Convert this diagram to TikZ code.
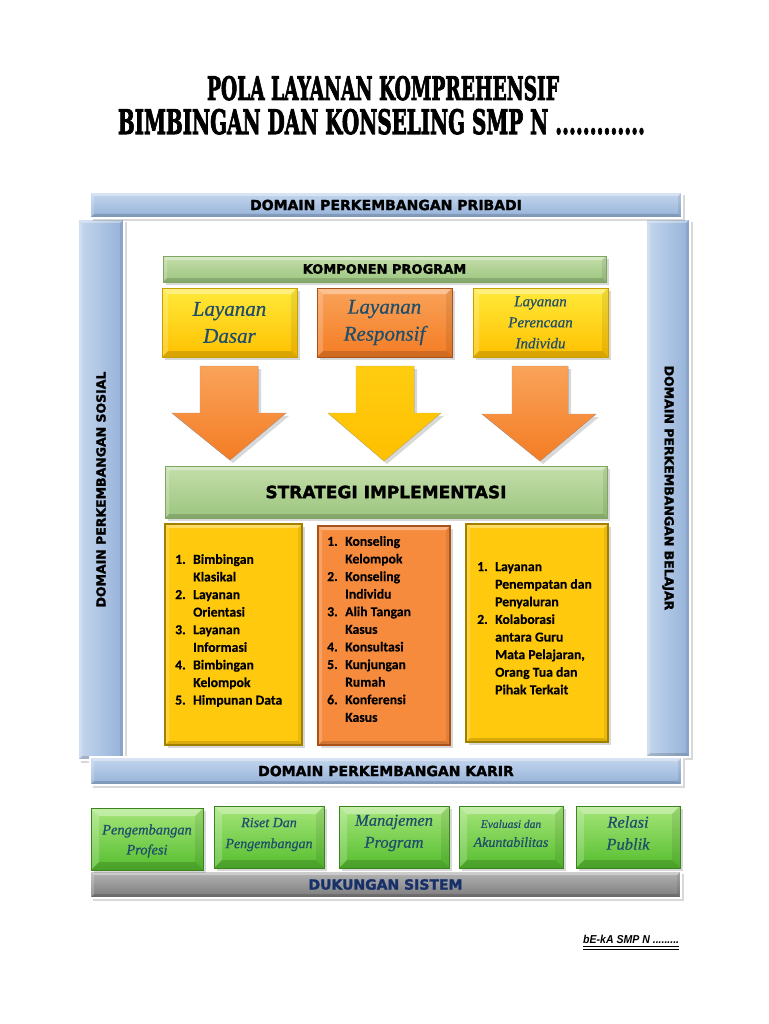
\documentclass[tikz,border=0pt]{standalone}
\usepackage{fontspec}
\setmainfont{Liberation Serif}
\newfontfamily\heavyfont{DejaVu Sans Bold}[FakeBold=1.6]
\newfontfamily\titlefont{DejaVu Serif Bold}[FakeBold=3]
\newfontfamily\listfont{Carlito}[FakeBold=0.4]
\newfontfamily\corsiva{Liberation Serif}[FakeBold=0.6]
\newfontfamily\sigfont{Liberation Sans}
\usetikzlibrary{shadows}
\definecolor{BlueTop}{HTML}{C6D7EE}
\definecolor{BlueBot}{HTML}{93B1D8}
\definecolor{GreenTop}{HTML}{C4DEAA}
\definecolor{GreenBot}{HTML}{9CC57F}
\definecolor{GreenEdge}{HTML}{7FA65F}
\definecolor{YelTop}{HTML}{FFEA3A}
\definecolor{YelBot}{HTML}{FFC000}
\definecolor{YelEdge}{HTML}{C9A000}
\definecolor{OrTop}{HTML}{F9A35A}
\definecolor{OrBot}{HTML}{F47C24}
\definecolor{OrEdge}{HTML}{A8521A}
\definecolor{ListYel}{HTML}{FFC90E}
\definecolor{ListOr}{HTML}{F68B3E}
\definecolor{LimeTop}{HTML}{A6E67A}
\definecolor{LimeBot}{HTML}{55BD2E}
\definecolor{GreyTop}{HTML}{B5B5B5}
\definecolor{GreyBot}{HTML}{7A7A7A}
\definecolor{TealText}{HTML}{1F4E6B}
\definecolor{NavyText}{HTML}{17306A}
\newcommand{\lsitem}[2]{\makebox[18pt][l]{#1}#2}
\begin{document}
\begin{tikzpicture}[x=1pt,y=-1pt,
  bevel/.style={path picture={
    \fill[white,opacity=0.35] (path picture bounding box.north west) -- (path picture bounding box.north east)
      -- ([xshift=-#1,yshift=-#1]path picture bounding box.north east) -- ([xshift=#1,yshift=-#1]path picture bounding box.north west) -- cycle;
    \fill[white,opacity=0.2] (path picture bounding box.north west) -- (path picture bounding box.south west)
      -- ([xshift=#1,yshift=#1]path picture bounding box.south west) -- ([xshift=#1,yshift=-#1]path picture bounding box.north west) -- cycle;
    \fill[black,opacity=0.15] (path picture bounding box.south west) -- (path picture bounding box.south east)
      -- ([xshift=-#1,yshift=#1]path picture bounding box.south east) -- ([xshift=#1,yshift=#1]path picture bounding box.south west) -- cycle;
    \fill[black,opacity=0.08] (path picture bounding box.north east) -- (path picture bounding box.south east)
      -- ([xshift=-#1,yshift=#1]path picture bounding box.south east) -- ([xshift=-#1,yshift=-#1]path picture bounding box.north east) -- cycle;
  }},
  bevel/.default=5pt,
  shad/.style={drop shadow={opacity=0.3,shadow xshift=3pt,shadow yshift=-3pt}},
  panel/.style={rectangle,inner sep=0pt,shad},
  bluebar/.style={panel,bevel=4pt,top color=BlueTop,bottom color=BlueBot,draw=white,line width=1.5pt},
  sidebar/.style={panel,bevel=4pt,left color=BlueTop,right color=BlueBot,draw=white,line width=1.5pt},
  greenbar/.style={panel,bevel=4pt,top color=GreenTop,bottom color=GreenBot,draw=GreenEdge,line width=0.6pt},
  yelbox/.style={panel,bevel=6pt,top color=YelTop,bottom color=YelBot,draw=YelEdge,line width=0.6pt},
  orbox/.style={panel,bevel=6pt,top color=OrTop,bottom color=OrBot,draw=OrEdge,line width=0.6pt},
  listyel/.style={panel,bevel=4pt,fill=ListYel,draw=YelEdge!80!black,line width=1.2pt},
  listor/.style={panel,bevel=4pt,fill=ListOr,draw=OrEdge,line width=1.2pt},
  limebox/.style={panel,bevel=8pt,top color=LimeTop,bottom color=LimeBot,draw=LimeBot!70!black,line width=0.4pt},
  greybar/.style={panel,bevel=4pt,top color=GreyTop,bottom color=GreyBot,draw=white,line width=1.5pt},
  domaintxt/.style={font=\heavyfont\fontsize{14}{16}\selectfont,text=black},
  sidetxt/.style={font=\heavyfont\fontsize{12.5}{14}\selectfont,text=black},
  laytxt/.style={font=\corsiva\itshape\fontsize{21}{27}\selectfont,text=TealText,align=center},
  greentxt/.style={font=\corsiva\itshape,text=TealText,align=center},
  listtxt/.style={font=\listfont\bfseries\fontsize{13.7}{17.6}\selectfont,align=left,anchor=north west,inner sep=0pt,text=black},
  arrowor/.style={shad,top color=OrTop,bottom color=OrBot,draw=OrEdge!60,line width=0.4pt},
  arrowyel/.style={shad,top color=YelBot!70!YelTop,bottom color=YelBot,draw=YelEdge!70,line width=0.4pt}
]
\useasboundingbox[fill=white] (0,0) rectangle (768,1024);

% title
\node[anchor=base,inner sep=0pt] (title1) at (383,100) {\resizebox{352pt}{24pt}{\titlefont POLA LAYANAN KOMPREHENSIF}};
\node[anchor=base,inner sep=0pt] (title2) at (381.5,134) {\resizebox{527pt}{25pt}{\titlefont BIMBINGAN DAN KONSELING SMP N .............}};

% inner panel
\node[panel,fill=white,draw=black!30,line width=0.8pt,minimum width=522pt,minimum height=542pt] (inner) at (385,487) {};

% domain bars
\node[sidebar,minimum width=46pt,minimum height=541pt] (sosialbar) at (101,489.5) {};
\node[sidetxt,rotate=90] (sosial) at (sosialbar.center) {DOMAIN PERKEMBANGAN SOSIAL};
\node[sidebar,minimum width=44pt,minimum height=538pt] (belajarbar) at (668,488) {};
\node[sidetxt,rotate=-90] (belajar) at (belajarbar.center) {DOMAIN PERKEMBANGAN BELAJAR};
\node[bluebar,minimum width=592pt,minimum height=26pt,domaintxt] (pribadi) at (386,205) {DOMAIN PERKEMBANGAN PRIBADI};
\node[bluebar,minimum width=592pt,minimum height=28pt,domaintxt] (karir) at (386,771) {DOMAIN PERKEMBANGAN KARIR};

% komponen program
\node[greenbar,minimum width=443pt,minimum height=26pt,font=\heavyfont\fontsize{13}{15}\selectfont] (komponen) at (384.5,269) {KOMPONEN PROGRAM};
\node[yelbox,minimum width=135pt,minimum height=69pt,laytxt] (dasar) at (229.5,322.5) {Layanan\\Dasar};
\node[orbox,minimum width=135pt,minimum height=69pt,laytxt] (responsif) at (384.5,322.5) {Layanan\\Responsif};
\node[yelbox,minimum width=135pt,minimum height=69pt,laytxt,font=\corsiva\itshape\fontsize{15}{21}\selectfont] (perencanaan) at (540.5,322.5) {Layanan\\Perencaan\\Individu};

% block arrows
\fill[arrowor] (200,366) -- (258,366) -- (258,413) -- (286,413) -- (230,460) -- (172,413) -- (200,413) -- cycle;
\fill[arrowyel] (356,366) -- (414,366) -- (414,413) -- (441,413) -- (384,461) -- (328,413) -- (356,413) -- cycle;
\fill[arrowor] (512,366) -- (568,366) -- (568,414) -- (596,414) -- (540,461) -- (482,414) -- (512,414) -- cycle;

% strategi
\node[greenbar,minimum width=442pt,minimum height=52pt,font=\heavyfont\fontsize{17}{19}\selectfont] (strategi) at (386,492) {STRATEGI IMPLEMENTASI};

\node[listyel,minimum width=137pt,minimum height=221pt] (s1) at (233.5,634.5) {};
\node[listor,minimum width=132pt,minimum height=219pt] (s2) at (384,635.5) {};
\node[listyel,minimum width=142pt,minimum height=218pt] (s3) at (537,633) {};

\node[listtxt] (list1) at (175,554) {\lsitem{1.}{Bimbingan}\\\lsitem{}{Klasikal}\\\lsitem{2.}{Layanan}\\\lsitem{}{Orientasi}\\\lsitem{3.}{Layanan}\\\lsitem{}{Informasi}\\\lsitem{4.}{Bimbingan}\\\lsitem{}{Kelompok}\\\lsitem{5.}{Himpunan Data}};
\node[listtxt] (list2) at (327,536) {\lsitem{1.}{Konseling}\\\lsitem{}{Kelompok}\\\lsitem{2.}{Konseling}\\\lsitem{}{Individu}\\\lsitem{3.}{Alih Tangan}\\\lsitem{}{Kasus}\\\lsitem{4.}{Konsultasi}\\\lsitem{5.}{Kunjungan}\\\lsitem{}{Rumah}\\\lsitem{6.}{Konferensi}\\\lsitem{}{Kasus}};
\node[listtxt] (list3) at (477,562) {\lsitem{1.}{Layanan}\\\lsitem{}{Penempatan dan}\\\lsitem{}{Penyaluran}\\\lsitem{2.}{Kolaborasi}\\\lsitem{}{antara Guru}\\\lsitem{}{Mata Pelajaran,}\\\lsitem{}{Orang Tua dan}\\\lsitem{}{Pihak Terkait}};

% dukungan sistem
\node[greybar,minimum width=591pt,minimum height=27pt,domaintxt,text=NavyText] (dukungan) at (385.5,884.5) {DUKUNGAN SISTEM};
\node[limebox,minimum width=112pt,minimum height=62pt] (g1) at (147,839) {};
\node[limebox,minimum width=110pt,minimum height=62pt] (g2) at (269,837) {};
\node[limebox,minimum width=110pt,minimum height=62pt] (g3) at (394,837) {};
\node[limebox,minimum width=104pt,minimum height=62pt] (g4) at (511,837) {};
\node[limebox,minimum width=104pt,minimum height=62pt] (g5) at (628,837) {};
\node[greentxt,font=\corsiva\itshape\fontsize{14.4}{20}\selectfont] (t1) at (147,841) {Pengembangan\\Profesi};
\node[greentxt,font=\corsiva\itshape\fontsize{14}{21}\selectfont] (t2) at (269,834.5) {Riset Dan\\Pengembangan};
\node[greentxt,font=\corsiva\itshape\fontsize{16.5}{22}\selectfont] (t3) at (394,833) {Manajemen\\Program};
\node[greentxt,font=\corsiva\itshape\fontsize{14}{19}\selectfont] (t4) at (511,833.5) {{\fontsize{11.5}{19}\selectfont Evaluasi dan}\\Akuntabilitas};
\node[greentxt,font=\corsiva\itshape\fontsize{16.5}{22}\selectfont] (t5) at (628,833) {Relasi\\Publik};

% signature
\node[anchor=base west,inner sep=0pt,font=\sigfont\bfseries\itshape\fontsize{13.5}{15}\selectfont] (sig) at (583,943) {\scalebox{0.78}[0.85]{bE-kA SMP N .........}};
\draw[line width=0.7pt] ([yshift=-3pt]sig.base west) -- ([yshift=-3pt]sig.base east);
\draw[line width=0.7pt] ([yshift=-6pt]sig.base west) -- ([yshift=-6pt]sig.base east);
\end{tikzpicture}
\end{document}
